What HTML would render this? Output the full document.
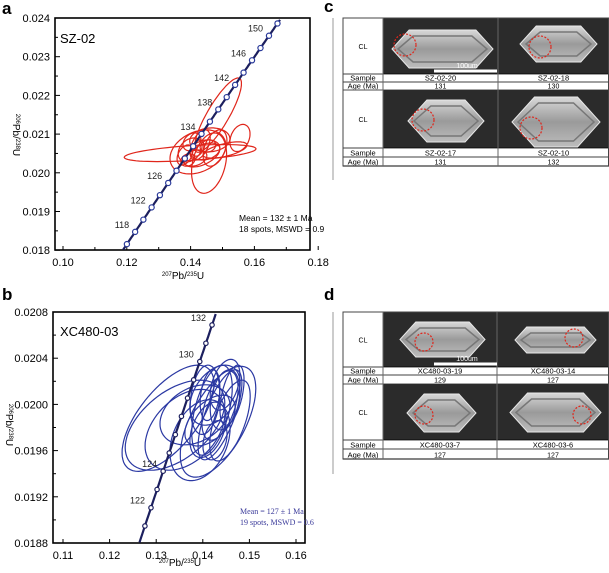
<!DOCTYPE html>
<html><head><meta charset="utf-8">
<style>
html,body{margin:0;padding:0;background:#fff;overflow:hidden;width:609px;height:573px;}
svg{display:block;font-family:"Liberation Sans",sans-serif;}
</style></head>
<body>
<svg id="fig" width="609" height="573" viewBox="0 0 609 573">
<defs>
<clipPath id="clipA"><rect x="55" y="18" width="255" height="232"/></clipPath>
<clipPath id="clipB"><rect x="53" y="312" width="252" height="231"/></clipPath>
<linearGradient id="cg" x1="0" y1="0" x2="0" y2="1"><stop offset="0" stop-color="#d8d8d8"/><stop offset="0.5" stop-color="#9a9a9a"/><stop offset="1" stop-color="#bdbdbd"/></linearGradient>
</defs>
<g id="panelA"></g>
<g id="panelB"></g>
<g id="panelC"></g>
<g id="panelD"></g>
</svg>
<script>
// ---------- Panel a data ----------
const aXTicks = [0.10, 0.12, 0.14, 0.16, 0.18];
const aYTicks = [0.018, 0.019, 0.020, 0.021, 0.022, 0.023, 0.024];
const aMarkerAges = [116,118,120,122,124,126,128,130,132,134,136,138,140,142,144,146,148,150,152];
const aLabelAges = [118,122,126,134,138,142,146,150];
const aCx = [0.1380,0.1455,0.1431,0.1514,0.1401,0.1380,0.1407,0.1420,0.1366,0.1433,0.1393,0.1447,0.1385,0.1412,0.1401,0.1374,0.1428,0.1474];
const aCy = [0.02051,0.02149,0.02025,0.02090,0.02054,0.02059,0.02072,0.02059,0.02046,0.02085,0.02038,0.02064,0.02080,0.02046,0.02064,0.02033,0.02069,0.02059];
const aSx = [0.0177,0.0063,0.0047,0.0027,0.0075,0.0032,0.0027,0.0040,0.0021,0.0054,0.0032,0.0032,0.0024,0.0048,0.0016,0.0019,0.0021,0.0059];
const aSy = [0.00022,0.00096,0.00078,0.00035,0.00057,0.00031,0.00039,0.00026,0.00026,0.00031,0.00021,0.00047,0.00023,0.00031,0.00021,0.00016,0.00016,0.00021];
const aRho = [0.5,0.85,0.3,0.3,0.3,0.3,0.5,0.2,0.4,0.1,0.3,0.4,0.3,0.5,0.3,0.2,0.2,0.6];
// ---------- Panel b data ----------
const bXTicks = [0.11, 0.12, 0.13, 0.14, 0.15, 0.16];
const bYTicks = [0.0188, 0.0192, 0.0196, 0.0200, 0.0204, 0.0208];
const bMarkerAges = [121,122,123,124,125,126,127,128,129,130,131,132];
const bLabelAges = [122,124,130,132];
const bCx = [0.13078,0.13206,0.13389,0.13992,0.13663,0.13882,0.14028,0.13937,0.14120,0.13846,0.13754,0.14028,0.14210,0.13809,0.14120,0.13571,0.13937,0.14248,0.13846];
const bCy = [0.01988,0.01982,0.01978,0.01985,0.01969,0.01995,0.01999,0.02008,0.02004,0.01986,0.02004,0.01991,0.01986,0.01978,0.02017,0.01991,0.01969,0.02008,0.02008];
const bSx = [0.0084,0.0091,0.0073,0.0069,0.0055,0.0037,0.0033,0.0046,0.0027,0.0046,0.0027,0.0040,0.0037,0.0033,0.0027,0.0064,0.0022,0.0022,0.0018];
const bSy = [0.00046,0.00039,0.00035,0.00048,0.00035,0.00039,0.00030,0.00026,0.00026,0.00022,0.00030,0.00039,0.00035,0.00024,0.00022,0.00026,0.00017,0.00026,0.00022];
const bRho = [0.65,0.5,0.4,0.6,0.3,0.5,0.5,0.4,0.3,0.5,0.2,0.7,0.6,0.4,0.4,0.3,0.3,0.5,0.3];

const NS='http://www.w3.org/2000/svg';
function mk(tag, attrs, parent){const e=document.createElementNS(NS,tag);for(const k in attrs)e.setAttribute(k,attrs[k]);if(parent)parent.appendChild(e);return e;}
const L238=1.55125e-10, L235=9.8485e-10;
function conc(t){return [Math.exp(L235*t*1e6)-1, Math.exp(L238*t*1e6)-1];}
function ellPath(cx,cy,sx,sy,r,X,Y){let d='';const q=Math.sqrt(1-r*r);for(let i=0;i<=72;i++){const t=i/72*2*Math.PI;const x=cx+sx*Math.cos(t);const y=cy+sy*(r*Math.cos(t)+q*Math.sin(t));d+=(i?'L':'M')+X(x).toFixed(1)+','+Y(y).toFixed(1);}return d+'Z';}

function panel(o){
  const g=document.getElementById(o.id);
  const fr=mk('rect',{x:o.l,y:o.t,width:o.r-o.l,height:o.b-o.t,fill:'none',stroke:'#000','stroke-width':1.6},g);
  
  
  o.yTicks.forEach((v,i)=>{
    const y=o.Y(v);
    const tk=mk('line',{x1:o.l,x2:o.l+5,y1:y,y2:y,stroke:'#000','stroke-width':1},g);
    
    
    const tx=mk('text',{x:o.l-5,y:y+4,'text-anchor':'end','font-size':11},g);
    tx.textContent=v.toFixed(o.yDec);
    
    
    if(i<o.yTicks.length-1){const ym=o.Y((v+o.yTicks[i+1])/2);
      const mt=mk('line',{x1:o.l,x2:o.l+3,y1:ym,y2:ym,stroke:'#000','stroke-width':1},g);
      
      }
  });
  o.xTicks.forEach((v,i)=>{
    const x=o.XL(v);
    const tk=mk('line',{x1:x,x2:x,y1:o.b,y2:o.b-4,stroke:'#000','stroke-width':1},g);
    
    
    const tx=mk('text',{x:x,y:o.b+16,'text-anchor':'middle','font-size':11},g);
    tx.textContent=v.toFixed(2);
    
    
    if(o.xMinor && i<o.xTicks.length-1){const xm=o.XL((v+o.xTicks[i+1])/2);
      const mt=mk('line',{x1:xm,x2:xm,y1:o.b,y2:o.b-3,stroke:'#000','stroke-width':1},g);
      
      }
  });
  const eg=mk('g',{'clip-path':'url(#'+o.clip+')'},g);
  
  
  for(let i=0;i<o.cx.length;i++){
    const p=mk('path',{d:ellPath(o.cx[i],o.cy[i],o.sx[i],o.sy[i],o.rho[i],o.X,o.Y),fill:'none',stroke:o.ec,'stroke-width':1.2},eg);
    
    
  }
  const cg=mk('g',{'clip-path':'url(#'+o.clip+')'},g);
  
  
  let d='';for(let t=o.tMin;t<=o.tMax;t+=0.25){const c=conc(t);d+=(d?'L':'M')+o.X(c[0]).toFixed(1)+','+o.Y(c[1]).toFixed(1);}
  const cl=mk('path',{d:d,fill:'none',stroke:'#1c1f5e','stroke-width':2.2},cg);
  
  
  o.ages.forEach(a=>{const c=conc(a);
    const m=mk('circle',{cx:o.X(c[0]),cy:o.Y(c[1]),r:o.mr,fill:'#fff',stroke:o.mc,'stroke-width':1.2},cg);
    
    });
  o.labels.forEach(a=>{const c=conc(a);
    const t=mk('text',{x:o.X(c[0])-6,y:o.Y(c[1])-4,'text-anchor':'end','font-size':9,fill:'#222'},g);
    t.textContent=a;
    
    });
}
panel({id:'panelA',clip:'clipA',l:55,t:18,r:310,b:250,
  X:x=>135+(x-0.1232)*3722, Y:y=>18+(0.024-y)*38700, XL:v=>63+(v-0.10)*3190,
  xTicks:aXTicks,yTicks:aYTicks,yDec:3,xMinor:true,cx:aCx,cy:aCy,sx:aSx,sy:aSy,rho:aRho,ec:'#e0261b',
  tMin:115.1,tMax:152.8,ages:aMarkerAges,labels:aLabelAges,mr:2.6,mc:'#2a3a9a'});
panel({id:'panelB',clip:'clipB',l:53,t:312,r:305,b:543,
  X:x=>151+(x-0.12767)*5470, Y:y=>312+(0.0208-y)*115500, XL:v=>63+(v-0.11)*4660,
  xTicks:bXTicks,yTicks:bYTicks,yDec:4,xMinor:false,cx:bCx,cy:bCy,sx:bSx,sy:bSy,rho:bRho,ec:'#2b39a3',
  tMin:120.1,tMax:132.7,ages:bMarkerAges,labels:bLabelAges,mr:2.2,mc:'#1c1f5e'});

function txt(parent,x,y,s,size,name,extra){const t=mk('text',Object.assign({x:x,y:y,'font-size':size},extra||{}),parent);t.textContent=s;
  
  return t;}
const A=document.getElementById('panelA'), B=document.getElementById('panelB');
txt(A,2,14,'a',17,'panel-label-a',{'font-weight':'bold'});
txt(A,60,43,'SZ-02',13,'sample-name-a');
txt(A,239,221,'Mean = 132 ± 1 Ma',8.5,'mean-age-a');
txt(A,239,232,'18 spots, MSWD = 0.9',8.5,'mswd-a');
const ya=txt(A,0,0,'',10,'y-axis-title-a',{transform:'translate(13,135) rotate(90)','text-anchor':'middle'});
ya.innerHTML='<tspan font-size="6" dy="-3">206</tspan><tspan dy="3">Pb/</tspan><tspan font-size="6" dy="-3">238</tspan><tspan dy="3">U</tspan>';
const xa=txt(A,183,279,'',10,'x-axis-title-a',{'text-anchor':'middle'});
xa.innerHTML='<tspan font-size="6" dy="-3">207</tspan><tspan dy="3">Pb/</tspan><tspan font-size="6" dy="-3">235</tspan><tspan dy="3">U</tspan>';
txt(B,2,300,'b',17,'panel-label-b',{'font-weight':'bold'});
txt(B,60,336,'XC480-03',13,'sample-name-b');
txt(B,240,514,'Mean = 127 ± 1 Ma',8,'mean-age-b',{fill:'#3a3a9a','font-family':'Liberation Serif, serif'});
txt(B,240,525,'19 spots, MSWD = 0.6',8,'mswd-b',{fill:'#3a3a9a','font-family':'Liberation Serif, serif'});
const yb=txt(B,0,0,'',10,'y-axis-title-b',{transform:'translate(6,425) rotate(90)','text-anchor':'middle'});
yb.innerHTML='<tspan font-size="6" dy="-3">206</tspan><tspan dy="3">Pb/</tspan><tspan font-size="6" dy="-3">238</tspan><tspan dy="3">U</tspan>';
const xb=txt(B,180,566,'',10,'x-axis-title-b',{'text-anchor':'middle'});
xb.innerHTML='<tspan font-size="6" dy="-3">207</tspan><tspan dy="3">Pb/</tspan><tspan font-size="6" dy="-3">235</tspan><tspan dy="3">U</tspan>';

function clTable(id,letter,ly,top,rows,cols,samples,ages,crystals){
  const g=document.getElementById(id);
  txt(g,324,ly,letter,17,'panel-label-'+letter,{'font-weight':'bold'});
  const vl=mk('line',{x1:333,x2:333,y1:top,y2:top+162,stroke:'#999','stroke-width':1},g);
  
  
  rows.forEach((r,ri)=>{
    txt(g,363,(r[0]+r[1])/2+3,'CL',7,'cl-row-label',{'text-anchor':'middle'});
    txt(g,363,r[2]-1.5,'Sample',7.5,'sample-row-label',{'text-anchor':'middle'});
    txt(g,363,r[3]-1.5,'Age (Ma)',7.5,'age-row-label',{'text-anchor':'middle'});
    for(let c=0;c<2;c++){
      const x1=cols[c+1], x2=cols[c+2];
      const im=mk('rect',{x:x1,y:r[0],width:x2-x1,height:r[1]-r[0],fill:'#2b2b2b'},g);
      
      
      const k=crystals[ri*2+c];
      const h=(k[3]-k[1])*0.45, m=(k[1]+k[3])/2;
      const poly=mk('polygon',{points:`${k[0]},${m} ${k[0]+h},${k[1]} ${k[2]-h},${k[1]} ${k[2]},${m} ${k[2]-h},${k[3]} ${k[0]+h},${k[3]}`,fill:'url(#cg)',stroke:'#e8e8e8','stroke-width':1},g);
      
      
      const inn=mk('polygon',{points:`${k[0]+6},${m} ${k[0]+h+4},${k[1]+6} ${k[2]-h-4},${k[1]+6} ${k[2]-6},${m} ${k[2]-h-4},${k[3]-6} ${k[0]+h+4},${k[3]-6}`,fill:'none',stroke:'#777','stroke-width':1.5},g);
      
      
      const ci=mk('circle',{cx:k[4],cy:k[5],r:k[6],fill:'none',stroke:'#e0261b','stroke-width':1.2,'stroke-dasharray':'2,1.5'},g);
      
      
      txt(g,(x1+x2)/2,r[2]-1.5,samples[ri*2+c],7.5,'sample-id',{'text-anchor':'middle'});
      txt(g,(x1+x2)/2,r[3]-1.5,ages[ri*2+c],7,'spot-age',{'text-anchor':'middle'});
    }
    [r[1],r[2]].forEach(y=>{const ln=mk('line',{x1:cols[0],x2:cols[3],y1:y,y2:y,stroke:'#000','stroke-width':0.8},g);
      
      });
    const bl=mk('line',{x1:cols[0],x2:cols[3],y1:r[3],y2:r[3],stroke:'#888','stroke-width':1.5},g);
    
    
  });
  const out=mk('rect',{x:cols[0],y:top,width:cols[3]-cols[0]-0.5,height:rows[1][3]-top,fill:'none',stroke:'#444','stroke-width':1},g);
  
  
  [cols[1],cols[2]].forEach(x=>{const ln=mk('line',{x1:x,x2:x,y1:top,y2:rows[1][3],stroke:'#666','stroke-width':1},g);
    
    });
  const sb=mk('line',{x1:434,x2:497,y1:rows[0][1]-3,y2:rows[0][1]-3,stroke:'#fff','stroke-width':3},g);
  
  
  txt(g,467,rows[0][1]-6,'100um',7,'scale-bar-label',{'text-anchor':'middle',fill:'#fff'});
}
clTable('panelC','c',12,18,[[18,74,82,90],[90,148,157,166]],[343,383,498,609],
  ['SZ-02-20','SZ-02-18','SZ-02-17','SZ-02-10'],['131','130','131','132'],
  [[392,30,493,68,405,45,11],[520,26,597,62,540,47,11],[408,100,484,142,423,120,11],[512,97,600,147,531,128,11]]);
clTable('panelD','d',300,312,[[312,367,375,384],[384,440,449,459]],[343,383,497,609],
  ['XC480-03-19','XC480-03-14','XC480-03-7','XC480-03-6'],['129','127','127','127'],
  [[400,322,485,357,424,342,9],[515,327,596,353,574,338,9],[407,394,476,432,424,415,9],[510,393,601,432,582,415,9]]);
</script>
</body></html>
